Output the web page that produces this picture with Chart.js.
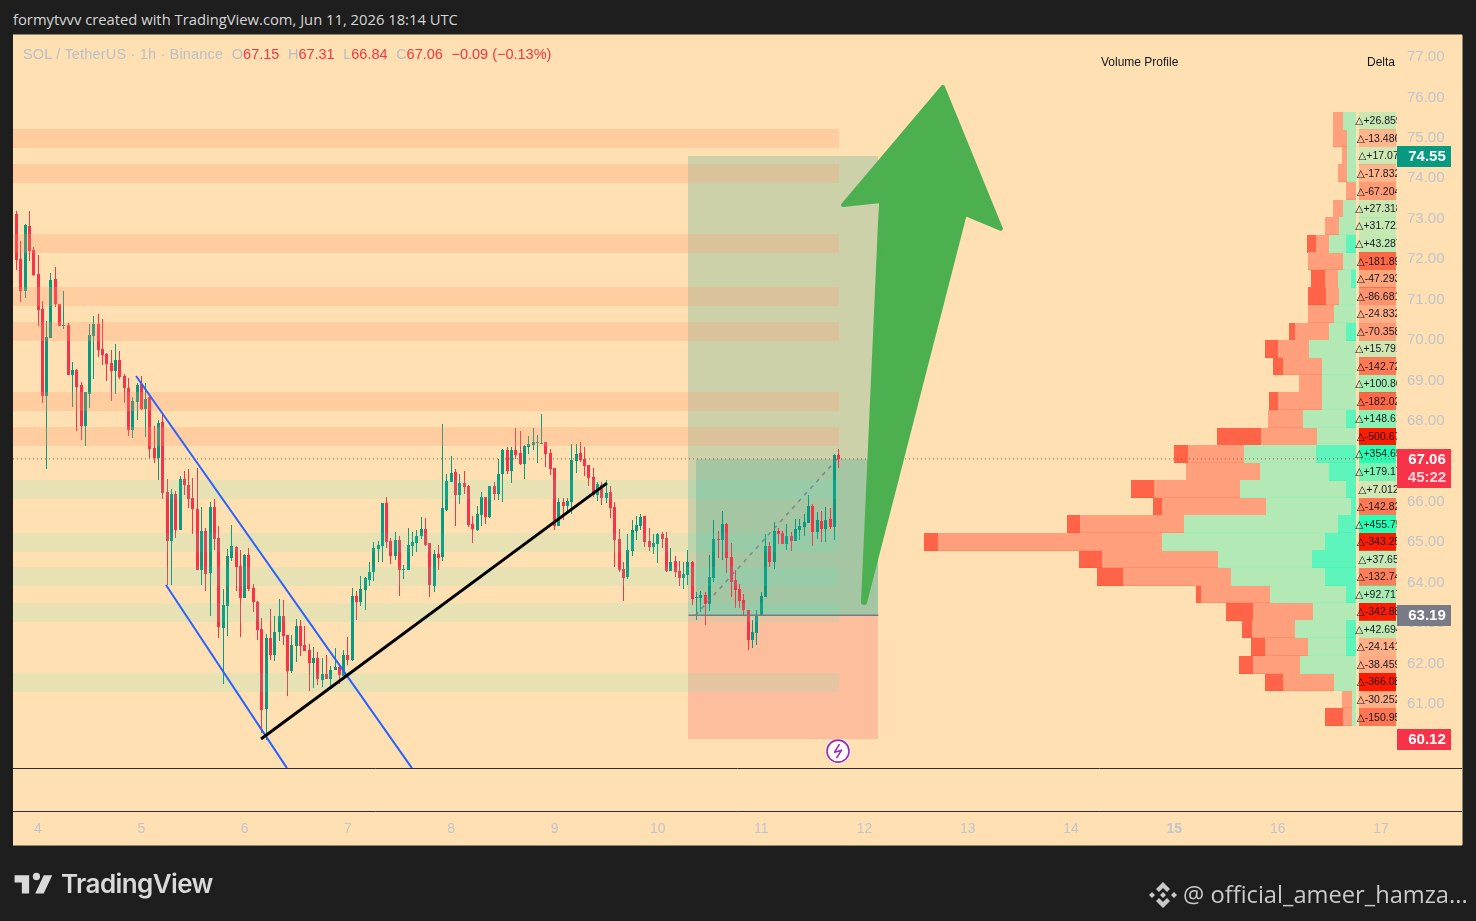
<!DOCTYPE html>
<html>
<head>
<meta charset="utf-8">
<title>SOL / TetherUS</title>
<script src="https://cdn.jsdelivr.net/npm/chart.js@4/dist/chart.umd.min.js"></script>
<style>
  html, body { margin: 0; padding: 0; width: 1476px; height: 921px; overflow: hidden; background: #1e1e1e; }
  #title { position: absolute; left: 13px; top: 9px; font: 14.77px "Open Sans", sans-serif; color: #d6d6d6; white-space: nowrap; }
  #panel { position: absolute; left: 13px; top: 35px; width: 1449px; height: 810px; background: #ffe0b2; box-shadow: 0 1px 0 #8f8470, 0 -1px 0 #8f8470, 1px 0 0 #8f8470; }
  #chart { position: absolute; left: 0; top: 0; }
  #legend { position: absolute; left: 23px; top: 46px; font: 14.5px "Liberation Sans", sans-serif; color: #b9bec9; white-space: nowrap; }
  #legend b { font-weight: normal; color: #f23645; }
  #legend span { margin-right: 4.5px; }
  #legend span:first-child { letter-spacing: 0.18px; }
  .hint { position: absolute; top: 55px; font: 12px "Liberation Sans", sans-serif; color: #131722; }
  #logo { position: absolute; left: 12px; top: 868px; }
  #brand { position: absolute; left: 61px; top: 868px; font: 600 26px Inter, sans-serif; color: #d9d9d9; white-space: nowrap; letter-spacing: -0.6px; }
  #mark { position: absolute; left: 1149px; top: 881px; }
  #handle { position: absolute; left: 1183px; top: 878px; font: 23.7px "Open Sans", sans-serif; color: #c9c9c9; white-space: nowrap; }
</style>
</head>
<body>
<div id="title">formytvvv created with TradingView.com, Jun 11, 2026 18:14 UTC</div>
<div id="panel"></div>
<canvas id="chart" width="1476" height="921"></canvas>
<div id="legend"><span>SOL / TetherUS · 1h · Binance</span> <span>O<b>67.15</b></span> <span>H<b>67.31</b></span> <span>L<b>66.84</b></span> <span>C<b>67.06</b></span> <b>−0.09 (−0.13%)</b></div>
<div class="hint" style="left:1101px">Volume Profile</div>
<div class="hint" style="left:1367px">Delta</div>
<svg id="logo" width="44" height="34" viewBox="0 0 36 28"><path fill="#d9d9d9" d="M14 6H2v6h6v9h6V6Zm5 15h7l7-15h-7l-7 15Zm1-11a3 3 0 1 0 0-6 3 3 0 0 0 0 6Z"/></svg>
<div id="brand">TradingView</div>
<svg id="mark" width="28" height="28" viewBox="0 0 28 28"><path fill="#c9c9c9" d="M14 1l7 7-3 3-4-4-4 4-3-3ZM14 27l7-7-3-3-4 4-4-4-3 3ZM3 11l3 3-3 3-3-3ZM25 11l3 3-3 3-3-3ZM14 11l3 3-3 3-3-3Z"/></svg>
<div id="handle">@ official_ameer_hamza...</div>

<script>
// hourly candles, first one sits 5 hours before the "4" tick
const firstHour = -5;
const opens = [73.12,72.00,71.21,72.82,72.23,71.63,70.77,68.62,70.05,71.51,70.89,70.35,70.37,69.14,69.26,68.89,67.88,68.67,70.10,70.40,69.78,69.65,69.43,69.24,69.51,69.11,68.82,67.78,68.47,68.92,68.30,68.59,67.33,67.09,67.98,66.24,65.04,66.20,65.31,66.56,66.42,66.10,65.82,64.32,65.28,64.24,65.87,65.11,62.88,63.42,64.61,64.88,64.41,63.62,64.69,63.87,63.52,62.85,60.88,62.63,62.21,62.78,63.18,62.71,61.81,62.44,62.93,62.46,62.34,62.01,62.14,61.59,61.74,61.62,61.84,61.91,61.69,62.21,62.09,63.67,63.52,63.82,64.07,64.27,64.84,64.91,65.97,65.04,64.66,65.06,64.32,64.32,64.91,64.99,65.14,65.33,64.99,63.92,64.71,64.64,65.80,66.49,66.74,66.17,66.47,66.39,65.46,65.31,65.68,66.12,65.63,66.39,66.20,66.69,67.28,66.76,67.28,67.21,66.94,67.36,67.40,67.45,67.43,67.48,67.21,66.84,65.41,66.00,65.90,66.00,67.01,67.21,67.06,66.91,66.61,66.17,66.42,66.10,66.24,65.87,65.09,64.34,64.14,64.79,65.28,65.41,65.65,65.04,64.88,64.96,65.19,65.11,64.29,64.54,64.29,64.12,64.19,64.51,63.62,63.62,63.70,63.47,64.12,65.09,65.06,65.46,64.64,64.07,63.84,63.57,63.33,62.58,62.75,63.18,63.65,64.91,64.51,65.28,65.23,64.96,65.14,65.04,65.31,65.38,65.48,65.90,65.26,65.53,65.33,65.58,65.38,67.15];
const highs = [73.19,72.45,72.87,73.20,72.30,72.10,70.97,70.47,71.66,71.81,70.89,71.21,70.42,69.46,69.29,68.96,68.72,70.40,70.59,70.64,70.52,69.68,69.76,69.90,69.73,69.16,69.06,68.59,68.94,69.11,68.94,68.64,67.88,68.03,68.15,66.56,66.32,66.27,66.64,66.76,66.81,66.59,66.84,65.87,65.36,65.99,66.07,65.41,63.84,64.84,65.43,64.91,64.81,64.71,64.86,63.97,63.55,63.13,62.73,63.35,63.18,63.60,63.57,62.71,62.71,63.10,63.08,62.93,62.48,62.41,62.29,62.14,62.21,61.94,62.38,61.99,62.34,62.65,63.87,63.79,64.17,64.14,64.51,65.01,65.04,65.97,66.12,65.11,65.26,65.14,64.44,65.36,65.26,65.31,65.63,65.60,64.99,64.81,64.94,67.93,66.69,67.14,66.81,66.69,66.76,66.42,65.65,65.90,66.24,66.12,66.39,66.49,67.06,67.31,67.36,67.36,67.83,67.75,67.40,67.63,67.83,67.65,68.17,67.48,67.31,66.84,66.10,66.10,66.10,67.43,67.43,67.48,67.36,66.91,66.84,66.49,66.49,66.54,66.39,66.00,65.33,64.51,65.19,65.55,65.65,65.70,65.65,65.36,65.21,65.23,65.26,65.26,64.86,64.66,64.54,64.51,64.81,64.54,63.77,63.79,63.77,64.69,65.55,65.28,65.77,65.48,64.99,64.32,63.97,63.72,63.33,63.08,63.33,63.77,65.19,65.01,65.50,65.36,65.28,65.46,65.26,65.58,65.58,65.70,66.17,65.95,65.75,65.77,65.87,65.85,67.19,67.31];
const lows = [71.73,70.94,71.04,71.95,71.58,70.35,68.45,66.81,70.05,70.82,70.35,70.27,69.14,68.35,67.75,67.53,67.38,68.32,69.04,69.58,69.38,68.99,68.50,68.67,69.04,68.45,67.63,67.58,68.03,68.27,67.60,67.09,66.96,66.54,66.07,63.94,63.94,65.11,65.31,66.17,65.85,65.21,64.32,63.94,63.79,63.18,64.81,62.63,61.49,62.68,64.54,63.79,62.65,63.62,63.79,63.28,62.58,60.28,60.11,62.09,62.06,62.56,62.46,61.20,61.77,62.04,62.19,62.31,61.32,61.39,61.47,61.42,61.62,61.39,61.84,61.49,61.69,61.96,62.06,63.08,63.42,63.33,63.92,64.04,64.51,64.51,64.86,64.46,64.56,63.67,64.09,64.32,64.66,64.76,65.09,64.91,63.64,63.77,64.32,64.54,65.77,66.49,65.41,65.95,66.20,65.38,64.99,65.28,65.41,65.46,65.60,66.05,66.05,66.00,66.69,66.46,67.06,66.91,66.57,67.18,67.28,66.96,67.43,66.86,66.66,65.31,65.41,65.55,65.70,65.70,66.71,66.99,66.64,66.39,66.12,66.02,65.92,65.97,65.60,64.39,64.27,63.55,64.09,64.66,65.06,65.31,64.88,64.79,64.71,64.49,64.86,64.27,64.29,64.14,63.92,63.84,63.94,63.45,63.08,63.28,62.95,63.30,64.02,64.61,64.56,64.24,63.64,63.38,63.38,63.18,62.34,62.38,62.46,63.18,63.65,64.39,64.34,64.96,64.96,64.81,64.79,65.04,65.06,65.16,65.48,64.91,65.09,65.01,65.01,65.33,65.06,66.84];
const closes = [71.98,71.21,72.85,72.20,71.61,70.74,68.62,70.08,71.49,70.89,70.35,70.37,69.14,69.26,68.84,67.88,68.72,70.12,70.40,69.76,69.63,69.41,69.24,69.51,69.09,68.82,67.78,68.50,68.89,68.30,68.54,67.31,67.09,67.95,66.22,65.04,66.20,65.31,66.56,66.42,66.07,65.82,64.32,65.28,64.22,65.87,65.09,62.90,63.45,64.66,64.91,64.39,63.62,64.69,63.84,63.52,62.83,60.85,62.63,62.21,62.78,63.18,62.68,61.81,62.46,62.93,62.44,62.31,62.01,62.14,61.62,61.74,61.62,61.84,61.91,61.71,62.21,62.09,63.67,63.52,63.84,64.12,64.27,64.86,64.94,65.97,65.01,64.66,65.06,64.32,64.34,64.94,65.01,65.16,65.33,64.94,63.94,64.71,64.61,65.85,66.52,66.71,66.17,66.47,66.37,65.43,65.33,65.70,66.12,65.63,66.39,66.20,66.69,67.28,66.76,67.28,67.16,66.94,67.38,67.43,67.48,67.48,67.45,67.18,66.81,65.41,66.00,65.90,66.02,67.04,67.18,67.04,66.89,66.59,66.17,66.44,66.10,66.22,65.85,65.06,64.32,64.12,64.81,65.31,65.43,65.63,65.01,64.88,64.99,65.21,65.09,64.29,64.51,64.27,64.12,64.22,64.51,63.60,63.65,63.70,63.47,64.14,65.09,65.06,65.46,64.61,64.02,63.82,63.55,63.33,62.58,62.78,63.20,63.67,64.91,64.51,65.28,65.21,64.96,65.14,65.04,65.33,65.41,65.50,65.90,65.26,65.55,65.33,65.55,65.38,67.15,67.06];

const priceTicks = [77,76,75,74,73,72,71,70,69,68,67,66,65,64,63,62,61,60];
const dayTicks = [4,5,6,7,8,9,10,11,12,13,14,15,16,17];

// supply and demand zones
const orangeBandLevels = [74.98,74.12,72.39,71.08,70.21,68.48,67.61];
const greenBandLevels = [66.30,65.00,64.14,63.27,61.53];
const bandDays = [3.758,11.753];

// long position tool
const targetPrice = 74.55;
const entryPrice = 63.19;
const stopPrice = 60.12;
const lastPrice = 67.06;
const positionDays = [10.296,12.134];
const openDays = [10.374,12.134];
const openPathDays = [10.364,11.737];

// drawn trend lines
const channelUpperDays = [4.949,7.62];
const channelUpperPrices = [69.11,59.41];
const channelLowerDays = [5.239,6.41];
const channelLowerPrices = [63.94,59.41];
const riseLineDays = [6.159,9.508];
const riseLinePrices = [60.13,66.46];

const arrowDays = [12.760,13.321,12.973,12.005,11.986,12.160,11.792];
const arrowPrices = [76.26,72.75,73.12,63.50,63.50,73.44,73.34];

// volume profile rows, top to bottom
const profileLevels = [75.42,74.99,74.55,74.12,73.68,73.25,72.82,72.38,71.95,71.52,71.08,70.65,70.21,69.78,69.35,68.91,68.48,68.05,67.61,67.18,66.74,66.31,65.88,65.44,65.01,64.58,64.14,63.71,63.27,62.84,62.41,61.97,61.54,61.11,60.67];
const buyDark = [0,0,0,0,0,0,0,10,0,5,0,0,10,0,0,0,0,10,0,40,27,10,5,18,31,44,31,10,0,10,10,0,0,0,0];
const buyLight = [13,9,9,9,0,13,17,17,13,13,17,22,17,47,34,34,34,43,39,72,69,106,85,154,163,94,94,76,43,51,38,56,22,4,4];
const sellLight = [10,14,5,9,10,10,14,13,35,13,13,26,34,31,39,23,44,35,56,56,74,86,104,104,224,116,108,69,60,43,43,47,51,10,9];
const sellDark = [0,0,0,0,0,0,0,9,0,14,18,0,6,13,10,0,9,0,44,14,0,23,9,13,14,23,26,5,27,10,14,14,18,0,18];
const deltaLabels = ["△+26.859","△-13.486","△+17.07","△-17.832","△-67.204","△+27.318","△+31.721","△+43.287","△-181.89","△-47.293","△-86.681","△-24.832","△-70.358","△+15.791","△-142.72","△+100.86","△-182.02","△+148.61","△-500.67","△+354.65","△+179.17","△+7.012","△-142.82","△+455.75","△-343.25","△+37.65","△-132.74","△+92.717","△-342.88","△+42.694","△-24.141","△-38.459","△-366.08","△-30.252","△-150.95"];

const UP = '#089981', DOWN = '#f7334a';
const candleDays = opens.map((o, i) => 4 + (firstHour + i) / 24);
const candleColors = opens.map((o, i) => closes[i] >= o ? UP : DOWN);

function profileRows(first, width) {
  return profileLevels.map((lv, i) => {
    const a = first(i);
    return { y: lv, x: [a, a + width[i]] };
  });
}

function deltaColor(label) {
  const d = parseFloat(label.slice(1));
  const a = Math.min(1, 0.18 + Math.abs(d) / 420);
  return d >= 0 ? `rgba(38,255,180,${a})` : `rgba(255,26,0,${a})`;
}

function lineSet(days, prices, color, width, order, dash) {
  return {
    type: 'line', data: days.map((d, i) => ({ x: d, y: prices[i] })),
    borderColor: color, borderWidth: width, borderDash: dash || [], pointRadius: 0, order, tension: 0
  };
}

const rowEdge = { top: 0, left: 0, right: 0, bottom: 1 };

const datasets = [
  // position tool
  { data: [{ x: (positionDays[0] + positionDays[1]) / 2, y: [entryPrice, targetPrice] }], backgroundColor: 'rgba(0,150,136,0.2)', barThickness: 190, order: 20 },
  { data: [{ x: (positionDays[0] + positionDays[1]) / 2, y: [stopPrice, entryPrice] }], backgroundColor: 'rgba(242,54,69,0.2)', barThickness: 190, order: 20 },
  { data: [{ x: (openDays[0] + openDays[1]) / 2, y: [entryPrice, lastPrice] }], backgroundColor: 'rgba(0,150,136,0.2)', barThickness: 182, order: 19 },
  // candles
  { data: candleDays.map((d, i) => ({ x: d, y: [lows[i], highs[i]] })), backgroundColor: candleColors, barThickness: 1, order: 15 },
  { data: candleDays.map((d, i) => ({ x: d, y: [opens[i], closes[i]] })), backgroundColor: candleColors, barThickness: 3, order: 14 },
  // zones on top of the candles
  { indexAxis: 'y', data: orangeBandLevels.map(v => ({ y: v, x: bandDays })), backgroundColor: 'rgba(255,150,110,0.26)', barThickness: 19, order: 12 },
  { indexAxis: 'y', data: greenBandLevels.map(v => ({ y: v, x: bandDays })), backgroundColor: 'rgba(60,235,200,0.12)', barThickness: 19, order: 12 },
  // volume profile
  { indexAxis: 'y', xAxisID: 'xVol', data: profileRows(() => 0, buyDark), backgroundColor: '#5ef5bc', borderColor: '#4ef2b4', borderWidth: rowEdge, barThickness: 18, order: 10 },
  { indexAxis: 'y', xAxisID: 'xVol', data: profileRows(i => buyDark[i], buyLight), backgroundColor: '#b2e9b5', borderColor: '#9eecb6', borderWidth: rowEdge, barThickness: 18, order: 10 },
  { indexAxis: 'y', xAxisID: 'xVol', data: profileRows(i => buyDark[i] + buyLight[i], sellLight), backgroundColor: '#ff9f7c', borderColor: '#ff8f6c', borderWidth: rowEdge, barThickness: 18, order: 10 },
  { indexAxis: 'y', xAxisID: 'xVol', data: profileRows(i => buyDark[i] + buyLight[i] + sellLight[i], sellDark), backgroundColor: '#ff6448', borderColor: '#ff5a3c', borderWidth: rowEdge, barThickness: 18, order: 10 },
  { indexAxis: 'y', xAxisID: 'xVol', data: profileLevels.map(v => ({ y: v, x: [-3, -40] })), backgroundColor: deltaLabels.map(deltaColor), barThickness: 18, order: 9 },
  // lines
  lineSet([3.758, 17.155], [lastPrice, lastPrice], '#b0503f', 1, 8, [1, 3]),
  lineSet(positionDays, [entryPrice, entryPrice], '#787b86', 1.5, 7),
  lineSet(openPathDays, [entryPrice, lastPrice], 'rgba(120,123,134,0.85)', 1.5, 7, [4, 5]),
  lineSet(channelUpperDays, channelUpperPrices, '#2962ff', 2, 6),
  lineSet(channelLowerDays, channelLowerPrices, '#2962ff', 2, 6),
  lineSet(riseLineDays, riseLinePrices, '#000000', 3, 5),
];

// snap bars to whole pixels, the way the trading screen does
const crispBars = {
  id: 'crispBars',
  afterDatasetUpdate(chart, args) {
    if (args.meta.type !== 'bar') return;
    args.meta.data.forEach(el => {
      if (el.horizontal) {
        const t = Math.round(el.y - el.height / 2), b = Math.round(el.y + el.height / 2);
        el.y = (t + b) / 2;
        el.height = b - t;
        el.x = Math.round(el.x);
        el.base = Math.round(el.base);
      } else {
        const l = Math.round(el.x - el.width / 2);
        el.x = l + el.width / 2;
        el.y = Math.round(el.y);
        el.base = Math.round(el.base);
        if (el.y === el.base) el.base += 1;
      }
    });
  }
};

const overlays = {
  id: 'overlays',
  afterDatasetsDraw(chart) {
    const { ctx, scales: { x, y } } = chart;
    const right = 1462, left = chart.chartArea.left;
    ctx.save();

    // arrow
    ctx.beginPath();
    arrowDays.forEach((d, i) => {
      const px = x.getPixelForValue(d), py = y.getPixelForValue(arrowPrices[i]);
      i ? ctx.lineTo(px, py) : ctx.moveTo(px, py);
    });
    ctx.closePath();
    ctx.fillStyle = ctx.strokeStyle = '#4caf50';
    ctx.lineWidth = 4;
    ctx.lineJoin = 'round';
    ctx.fill();
    ctx.stroke();

    // pane separators
    ctx.strokeStyle = '#2a2e39';
    ctx.lineWidth = 1;
    [59.41, y.min].forEach(v => {
      const py = Math.round(y.getPixelForValue(v)) + 0.5;
      ctx.beginPath(); ctx.moveTo(left, py); ctx.lineTo(right, py); ctx.stroke();
    });

    // delta text
    ctx.save();
    ctx.beginPath();
    ctx.rect(1340, 35, 57, 776);
    ctx.clip();
    ctx.fillStyle = '#131722';
    ctx.font = '10.5px "Liberation Sans", "DejaVu Sans", sans-serif';
    ctx.textAlign = 'center';
    ctx.textBaseline = 'middle';
    profileLevels.forEach((lv, i) => ctx.fillText(deltaLabels[i], 1378.5, y.getPixelForValue(lv) + 0.5));
    ctx.restore();

    // price badges
    const badge = (value, lines, color) => {
      const py = y.getPixelForValue(value), h = lines.length > 1 ? 39 : 21;
      const top = Math.ceil(py - 10.5);
      ctx.fillStyle = color;
      ctx.fillRect(1397, top, 54, h);
      ctx.fillStyle = '#ffffff';
      ctx.font = 'bold 15px "Liberation Sans", sans-serif';
      ctx.textAlign = 'center';
      ctx.textBaseline = 'middle';
      lines.forEach((t, i) => {
        ctx.globalAlpha = i ? 0.8 : 1;
        ctx.fillText(t, 1427, top + 10.5 + i * 18);
      });
      ctx.globalAlpha = 1;
    };
    badge(targetPrice, [targetPrice.toFixed(2)], '#089981');
    badge(lastPrice, [lastPrice.toFixed(2), '45:22'], '#f7334a');
    badge(entryPrice, [entryPrice.toFixed(2)], '#787b86');
    badge(stopPrice, [stopPrice.toFixed(2)], '#f7334a');

    // alert marker
    const cx = x.getPixelForValue(11.744), cy = y.getPixelForValue(59.83);
    ctx.beginPath();
    ctx.arc(cx, cy, 12.5, 0, Math.PI * 2);
    ctx.fillStyle = '#ffffff';
    ctx.fill();
    ctx.beginPath();
    ctx.arc(cx, cy, 11, 0, Math.PI * 2);
    ctx.strokeStyle = '#9c27b0';
    ctx.lineWidth = 1.6;
    ctx.stroke();
    ctx.beginPath();
    ctx.moveTo(cx + 1.5, cy - 7);
    ctx.lineTo(cx - 3.5, cy + 1);
    ctx.lineTo(cx + 3.5, cy - 1);
    ctx.lineTo(cx - 1.5, cy + 7);
    ctx.stroke();
    ctx.restore();
  }
};

const axisText = '#c1c4cc';

new Chart(document.getElementById('chart'), {
  type: 'bar',
  data: { datasets },
  plugins: [crispBars, overlays],
  options: {
    responsive: false,
    animation: false,
    devicePixelRatio: 1,
    layout: { padding: { left: 13, top: 35, right: 14, bottom: 76 } },
    datasets: { bar: { grouped: false, borderWidth: 0, inflateAmount: 0 } },
    plugins: { legend: { display: false }, tooltip: { enabled: false } },
    scales: {
      x: {
        type: 'linear', axis: 'x', offset: false, min: 3.758, max: 17.155,
        grid: { display: false, drawTicks: false, offset: false }, border: { display: false },
        afterBuildTicks: s => { s.ticks = dayTicks.map(value => ({ value })); },
        afterFit: s => { s.height = 34; },
        ticks: {
          autoSkip: false, maxRotation: 0, padding: 10, color: axisText,
          font: c => ({ family: '"Liberation Sans", sans-serif', size: 14, weight: c.tick && c.tick.value === 15 ? 'bold' : 'normal' }),
          callback: v => String(v)
        }
      },
      y: {
        type: 'linear', axis: 'y', position: 'right', offset: false, min: 58.35, max: 77.544,
        grid: { display: false, drawTicks: false, offset: false }, border: { display: false },
        afterBuildTicks: s => { s.ticks = priceTicks.map(value => ({ value })); },
        afterFit: s => { s.width = 65; },
        ticks: {
          autoSkip: false, padding: 10, color: axisText,
          font: { family: '"Liberation Sans", sans-serif', size: 15 },
          callback: v => Number(v).toFixed(2)
        }
      },
      // hidden axis of the profile, grows leftwards from the delta column
      xVol: {
        type: 'linear', axis: 'x', display: false, reverse: true, offset: false, min: -41, max: 1343,
        grid: { display: false }
      }
    }
  }
});
</script>
</body>
</html>
